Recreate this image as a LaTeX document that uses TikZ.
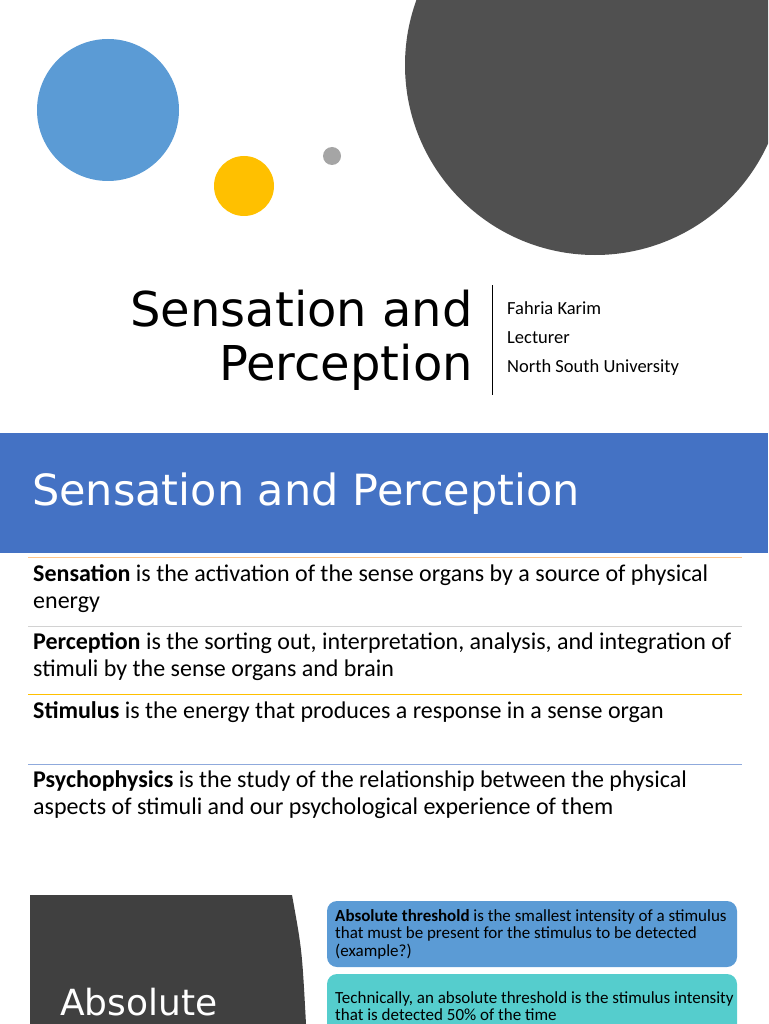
\documentclass[tikz,border=0pt]{standalone}
\usepackage{fontspec}
\setmainfont{Carlito}
\newfontfamily\titlefont{DejaVu Sans}
\usetikzlibrary{positioning}
\definecolor{darkgray}{HTML}{505050}
\definecolor{darkpanel}{HTML}{404040}
\definecolor{dotblue}{HTML}{5B9BD5}
\definecolor{dotyellow}{HTML}{FFC000}
\definecolor{dotgray}{HTML}{A5A5A5}
\definecolor{bandblue}{HTML}{4472C4}
\definecolor{boxteal}{HTML}{55CDCD}

\begin{document}
\begin{tikzpicture}[
    x=1pt, y=-1pt,
    para/.style={anchor=north west, inner sep=0pt, align=left,
      font=\fontsize{24}{27}\selectfont},
    rule/.style={line width=0.8pt},
    infobox/.style={rounded corners=10pt, fill=#1},
    boxtext/.style={anchor=north west, inner sep=0pt, align=left,
      font=\fontsize{17}{17.5}\selectfont}
]
    \useasboundingbox (0,0) rectangle (768,1024);
    \clip (0,0) rectangle (768,1024);

    % Decorative circles
    \fill[darkgray] (595,65) circle (190pt);
    \fill[dotblue] (108,110) circle (71pt);
    \fill[dotyellow] (244,186) circle (30pt);
    \fill[dotgray] (332,156) circle (9pt);

    % Title slide
    \node[anchor=east, align=right, inner sep=0pt, font=\titlefont\fontsize{48}{54}\selectfont]
      (title) at (473,340) {Sensation and\\Perception};
    \coordinate (bartop) at (492,285);
    \coordinate (barbot) at (492,395);
    \draw[line width=0.8pt] (bartop) -- (barbot);
    \node[anchor=north west, align=left, inner sep=0pt, font=\fontsize{18.5}{29}\selectfont]
      (author) at (507,301) {Fahria Karim\\Lecturer\\North South University};

    % Second slide header
    \fill[bandblue] (0,433) rectangle (768,553);
    \node[anchor=west, inner sep=0pt, text=white, font=\titlefont\fontsize{43}{48}\selectfont]
      (header) at (32,494) {Sensation and Perception};

    % Definitions
    \draw[rule, orange!45] (28,557) -- (742,557);
    \node[para] (sens) at (33,564) {\textbf{Sensation} is the activation of the sense organs by a source of physical\\energy};
    \draw[rule, gray!35] (28,626) -- (742,626);
    \node[para] (perc) at (33,632) {\textbf{Perception} is the sorting out, interpretation, analysis, and integration of\\stimuli by the sense organs and brain};
    \draw[rule, dotyellow] (28,694) -- (742,694);
    \node[para] (stim) at (33,701) {\textbf{Stimulus} is the energy that produces a response in a sense organ};
    \draw[rule, bandblue!60] (28,764) -- (742,764);
    \node[para] (psych) at (33,770) {\textbf{Psychophysics} is the study of the relationship between the physical\\aspects of stimuli and our psychological experience of them};

    % Third slide
    \fill[darkpanel] (30,895) -- (292,895) .. controls (302,950) .. (306,1024) -- (30,1024) -- cycle;
    \node[anchor=base west, inner sep=0pt, text=white, font=\titlefont\fontsize{36}{42}\selectfont]
      (absolute) at (60,1015) {Absolute};
    \fill[infobox=dotblue] (327,901) rectangle (737,967);
    \node[boxtext] (box1) at (335,909)
      {\textbf{Absolute threshold} is the smallest intensity of a stimulus\\that must be present for the stimulus to be detected\\(example?)};
    \fill[infobox=boxteal] (327,974) rectangle (737,1040);
    \node[boxtext] (box2) at (335,991)
      {Technically, an absolute threshold is the stimulus intensity\\that is detected 50\% of the time};
\end{tikzpicture}
\end{document}
